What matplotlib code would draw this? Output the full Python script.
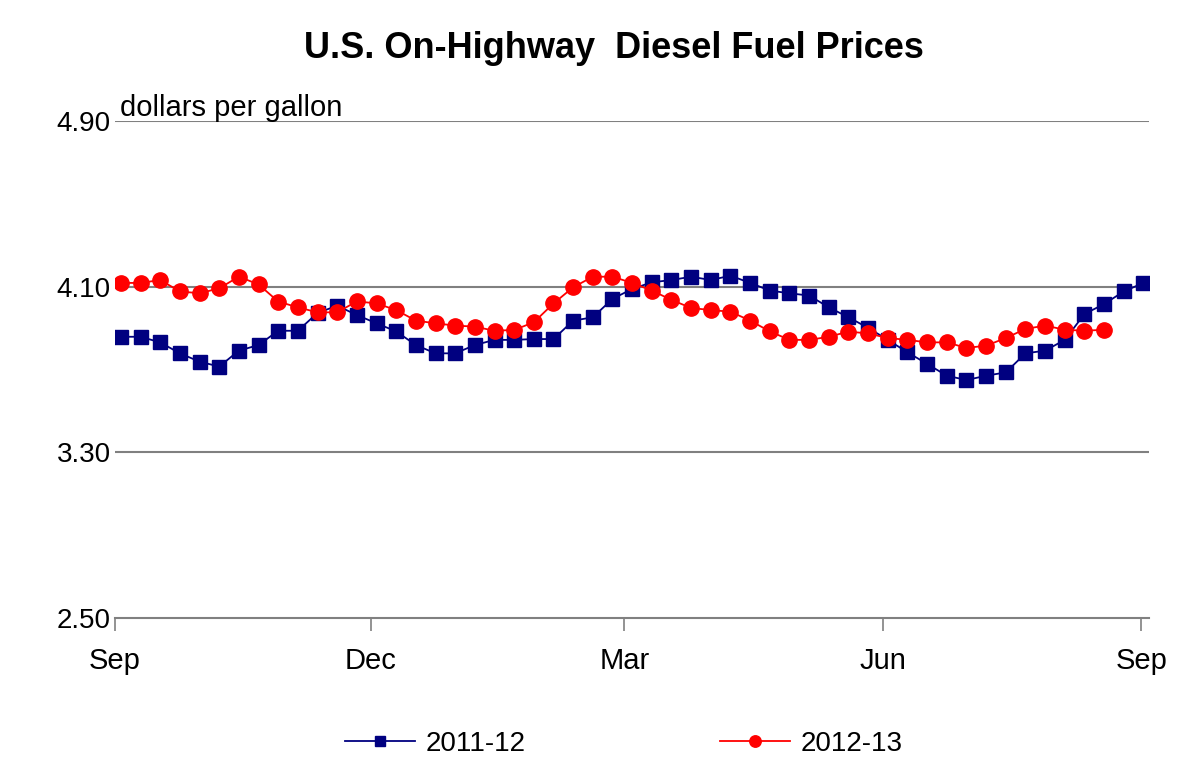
import matplotlib
matplotlib.use('Agg')
import matplotlib.pyplot as plt

plt.rcParams['font.family'] = ['Liberation Sans', 'DejaVu Sans']

# weekly prices, dollars per gallon (week index 0 = first week of Sep)
prices_2011_12 = [3.858, 3.858, 3.831, 3.778, 3.738, 3.714, 3.791, 3.818, 3.887, 3.887,
                  3.973, 4.008, 3.963, 3.923, 3.884, 3.818, 3.778, 3.778, 3.818, 3.843,
                  3.843, 3.847, 3.847, 3.936, 3.952, 4.041, 4.089, 4.121, 4.132, 4.148,
                  4.132, 4.153, 4.118, 4.081, 4.068, 4.057, 4.000, 3.952, 3.901, 3.843,
                  3.783, 3.727, 3.670, 3.649, 3.670, 3.686, 3.778, 3.791, 3.843, 3.968,
                  4.016, 4.077, 4.118]
prices_2012_13 = [4.118, 4.118, 4.132, 4.077, 4.068, 4.092, 4.148, 4.111, 4.028, 4.000,
                  3.976, 3.976, 4.029, 4.019, 3.987, 3.936, 3.923, 3.912, 3.907, 3.887,
                  3.891, 3.928, 4.019, 4.097, 4.148, 4.148, 4.118, 4.081, 4.036, 3.997,
                  3.987, 3.979, 3.936, 3.884, 3.843, 3.843, 3.858, 3.883, 3.874, 3.852,
                  3.843, 3.831, 3.831, 3.804, 3.815, 3.852, 3.896, 3.912, 3.892, 3.887,
                  3.892]
month_labels = ['Sep', 'Dec', 'Mar', 'Jun', 'Sep']
month_pos = [-0.3, 12.7, 25.6, 38.75, 51.9]
y_ticks = [2.50, 3.30, 4.10, 4.90]

weeks_a = list(range(len(prices_2011_12)))
weeks_b = list(range(len(prices_2012_13)))

fig = plt.figure(figsize=(12, 7.76), dpi=100)
ax = fig.add_axes([0.0958, 0.2036, 0.862, 0.6405])

ax.plot(weeks_a, prices_2011_12, color='#000080', lw=1.3, marker='s', ms=10.5,
        label='2011-12', zorder=3)
ax.plot(weeks_b, prices_2012_13, color='#ff0000', lw=1.3, marker='o', ms=11,
        label='2012-13', zorder=4)

ax.set_ylim(2.50, 4.90)
ax.set_xlim(-0.3, 52.3)
ax.set_yticks(y_ticks)
ax.set_yticklabels(['%.2f' % v for v in y_ticks])
ax.set_xticks(month_pos)
ax.set_xticklabels(month_labels)

for v in y_ticks[1:]:
    ax.axhline(v, color='#808080', lw=1.5, zorder=1)

for s in ['left', 'right', 'top']:
    ax.spines[s].set_visible(False)
ax.spines['bottom'].set_color('#808080')
ax.spines['bottom'].set_linewidth(1.5)

ax.tick_params(axis='y', length=0, pad=3, labelsize=20)
ax.tick_params(axis='x', length=9, width=1.2, color='#808080', pad=12, labelsize=21)

ax.text(0.005, 1.010, 'dollars per gallon', transform=ax.transAxes,
        fontsize=21, va='baseline', ha='left')

fig.text(0.512, 0.937, 'U.S. On-Highway  Diesel Fuel Prices', ha='center', va='center',
         fontsize=26, fontweight='bold')

fig.legend(loc='center', bbox_to_anchor=(0.52, 0.041), ncol=2, frameon=False,
           fontsize=20, handlelength=2.5, handletextpad=0.4, columnspacing=7,
           markerscale=0.75)

fig.savefig('out.png', dpi=100)
